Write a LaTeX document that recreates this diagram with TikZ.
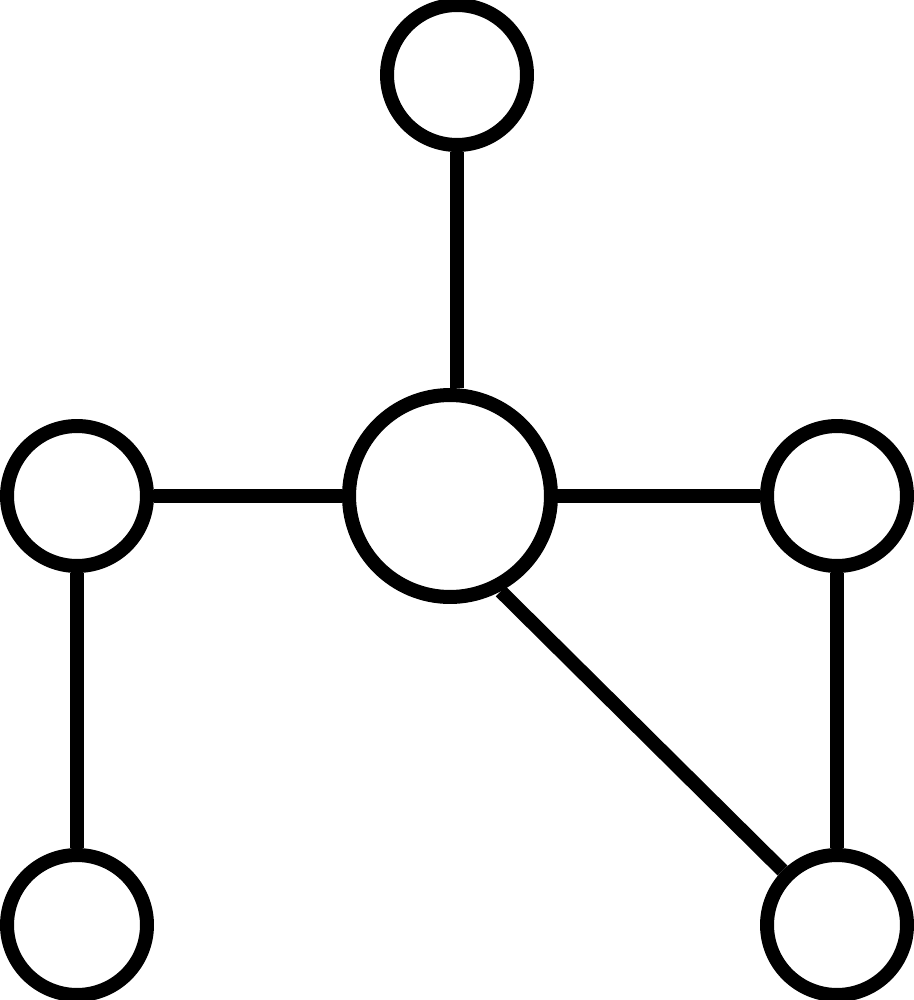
\documentclass[tikz,border=0pt]{standalone}
\begin{document}
\begin{tikzpicture}[x=0.02cm,y=-0.02cm,
  vtx/.style={circle,draw=black,line width=0.28cm,minimum size=2.8cm,inner sep=0pt,fill=white},
  hub/.style={vtx,minimum size=4.04cm},
  edge/.style={line width=0.28cm,black}]
\useasboundingbox (0,0) rectangle (913,1000);
\node[vtx] (top) at (457,75) {};
\node[hub] (big) at (450,496) {};
\node[vtx] (left) at (77,496) {};
\node[vtx] (right) at (837,496) {};
\node[vtx] (bl) at (77,925) {};
\node[vtx] (br) at (837,925) {};
\draw[edge] (top.south) -- (top.south |- big.north);
\draw[edge] (left.east) -- (big.west);
\draw[edge] (big.east) -- (right.west);
\draw[edge] (left.south) -- (bl.north);
\draw[edge] (right.south) -- (br.north);
\draw[edge] (big.-62) -- (br.135);
\end{tikzpicture}
\end{document}
